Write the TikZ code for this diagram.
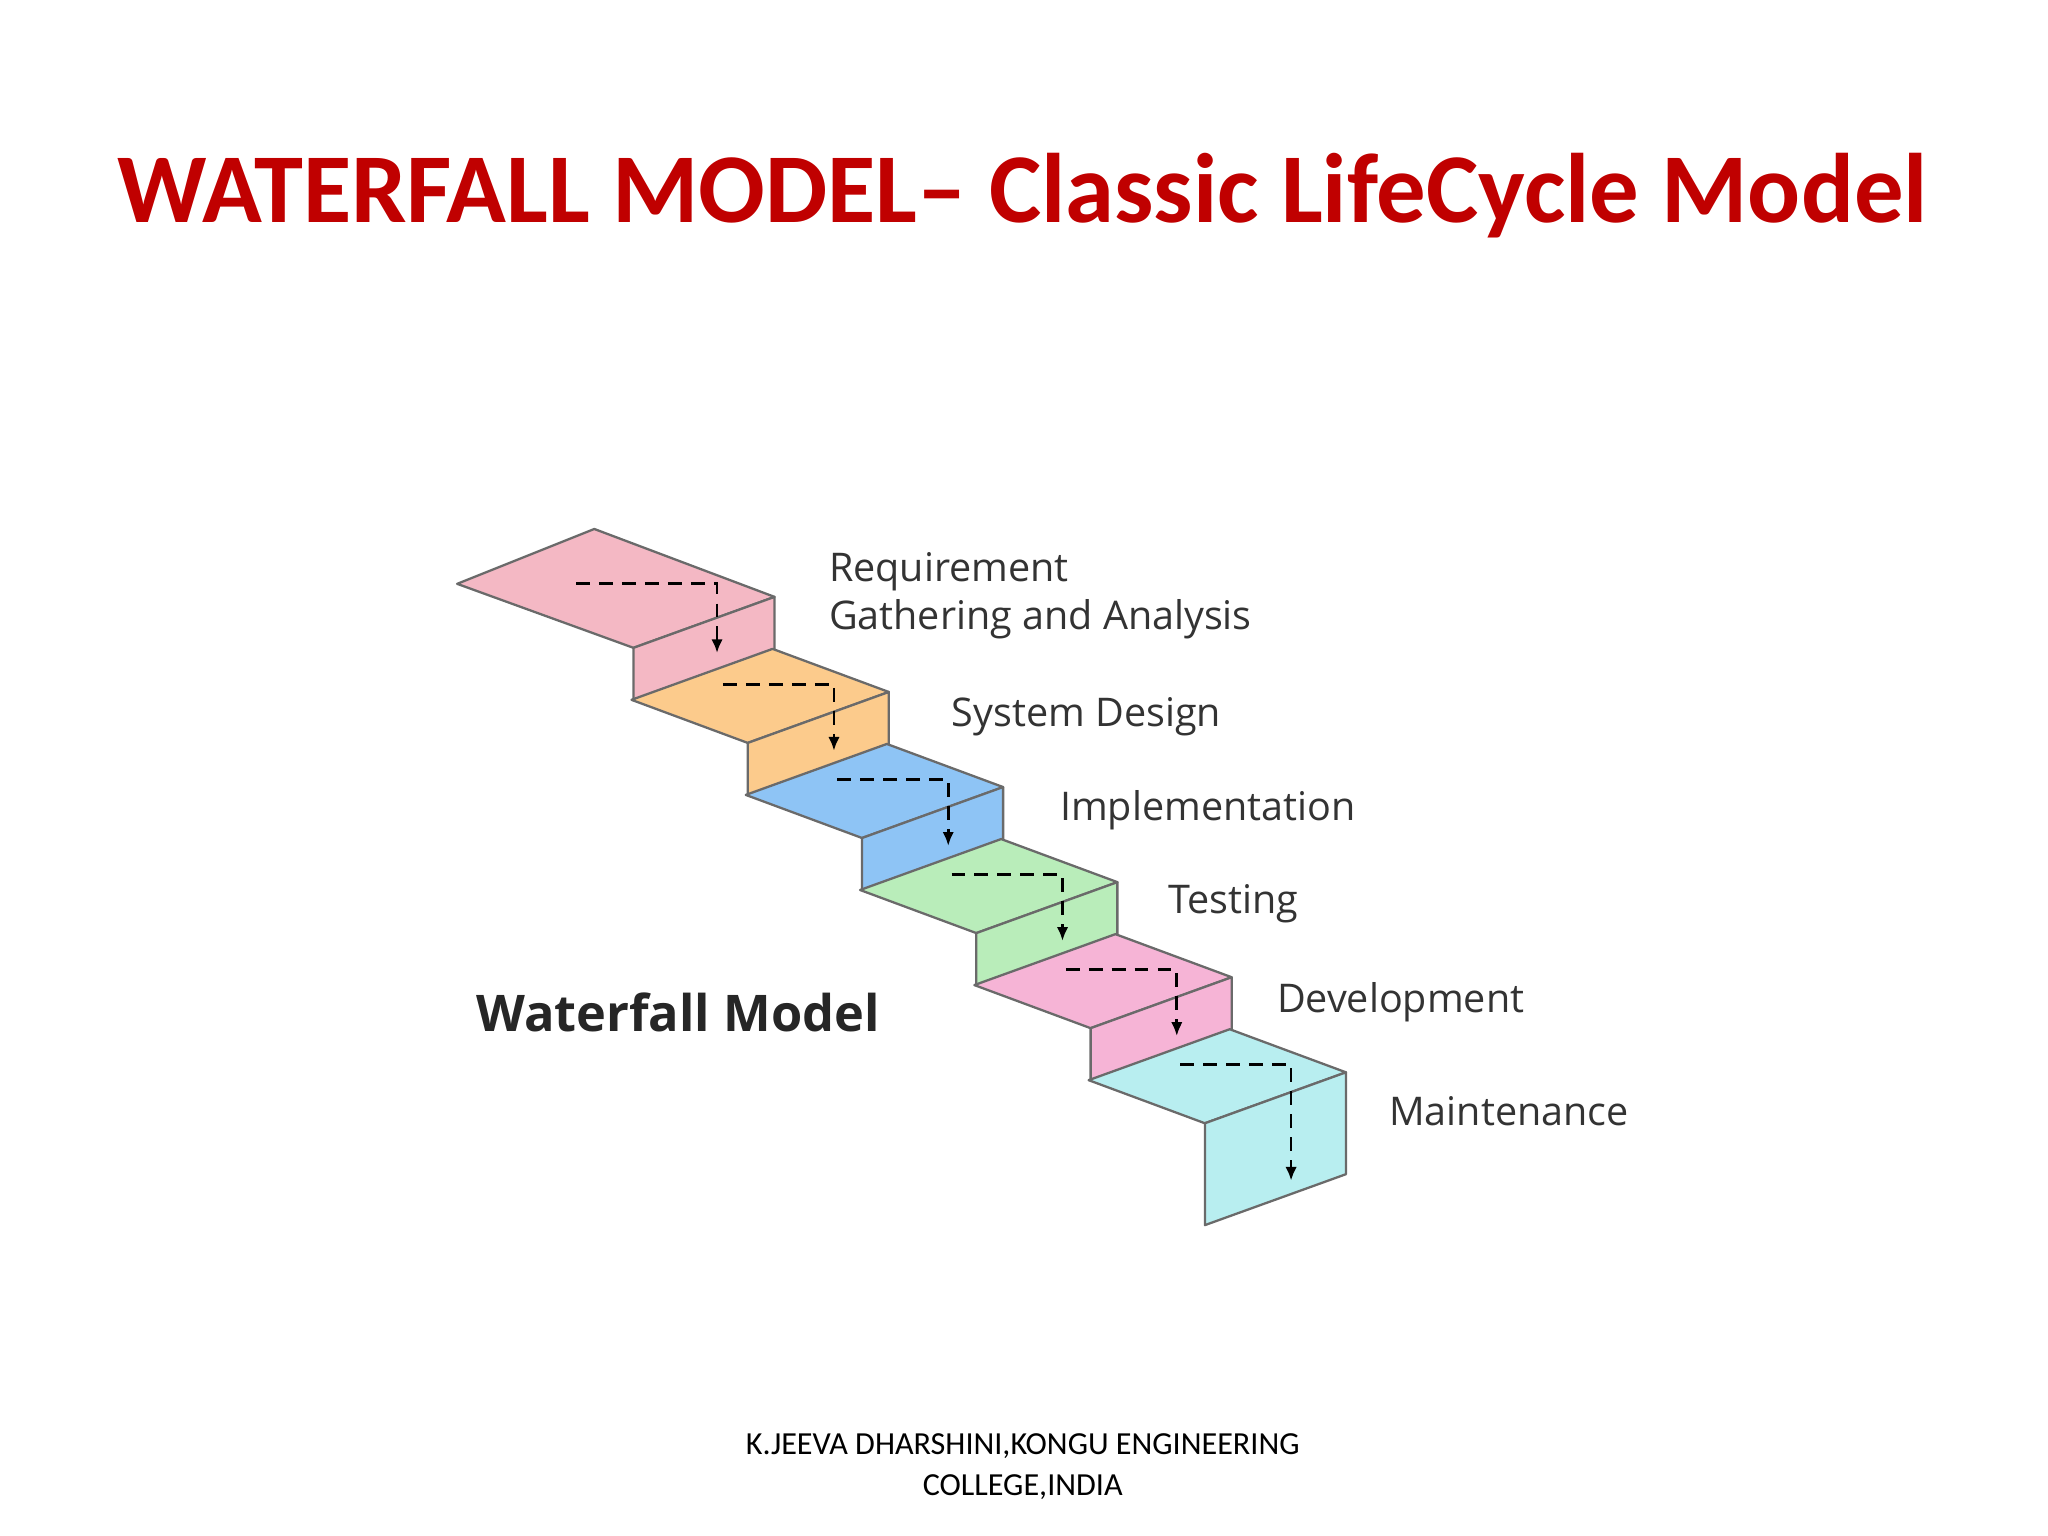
\documentclass[tikz,border=0pt]{standalone}
\usepackage{fontspec}
\setmainfont{Carlito}
\newfontfamily\lblfont{Open Sans}
\usetikzlibrary{arrows.meta,calc}
\definecolor{ttl}{HTML}{C00000}
\definecolor{cA}{HTML}{F4B8C4}
\definecolor{cB}{HTML}{FCCB8C}
\definecolor{cC}{HTML}{8EC4F5}
\definecolor{cD}{HTML}{B9EDBA}
\definecolor{cE}{HTML}{F6B4D6}
\definecolor{cF}{HTML}{B8EEF0}
\definecolor{edge}{HTML}{6A6A6A}
\tikzset{
  face/.style={draw=edge,line width=0.5pt,line join=round},
  flow/.style={densely dashed,line width=0.6pt,-{Latex[length=3pt,width=2.5pt]}},
  lbl/.style={anchor=west,font=\lblfont\fontsize{8.6}{10.5}\selectfont,text=black!80,align=left,inner sep=0pt}
}
\begin{document}
\begin{tikzpicture}[x=0.01cm,y=-0.01cm]
\useasboundingbox (0,0) rectangle (1568,1176);
\node[font=\bfseries\fontsize{21.5}{24}\selectfont,text=ttl] (title) at (783,150) {WATERFALL MODEL-- Classic LifeCycle Model};
% step 1
\fill[cA] (350,447)--(455,405)--(593,457)--(485,496)--cycle;
\draw[face] (350,447)--(455,405)--(593,457)--(485,496)--cycle;
\foreach \i/\c/\h in {0/cA/40,1/cB/40,2/cC/40,3/cD/40,4/cE/40,5/cF/78}{
  \coordinate (R) at ({593+87.5*\i},{457+72.8*\i});
  \ifnum\i>0
    \filldraw[face,fill=\c] ($(R)+(-108,39)$)--(R)--($(R)+(-89,-33)$)--($(R)+(-197,6)$)--cycle;
  \fi
  \filldraw[face,fill=\c] ($(R)+(-108,39)$)--(R)--($(R)+(0,\h)$)--($(R)+(-108,39+\h)$)--cycle;
  \ifnum\i>0
    \draw[flow] ($(R)+(-127,-6)$)--($(R)+(-42,-6)$)--($(R)+(-42,{\h+5})$);
  \fi
}
\draw[flow] (441,447)--(549,447)--(549,500);
\node[lbl] (l1) at (634,456) {Requirement\\Gathering and Analysis};
\node[lbl] (l2) at (728,549) {System Design};
\node[lbl] (l3) at (811,620) {Implementation};
\node[lbl] (l4) at (894,692) {Testing};
\node[lbl] (l5) at (977,767) {Development};
\node[lbl] (l6) at (1063,851) {Maintenance};
\node[anchor=west,inner sep=0pt,font=\lblfont\bfseries\fontsize{11}{13}\selectfont,text=black!85] (wm) at (364,775) {Waterfall Model};
\node[align=center,font=\fontsize{7}{9}\selectfont,inner sep=0pt] (foot) at (783,1123) {K.JEEVA DHARSHINI,KONGU ENGINEERING\\COLLEGE,INDIA};
\end{tikzpicture}
\end{document}
